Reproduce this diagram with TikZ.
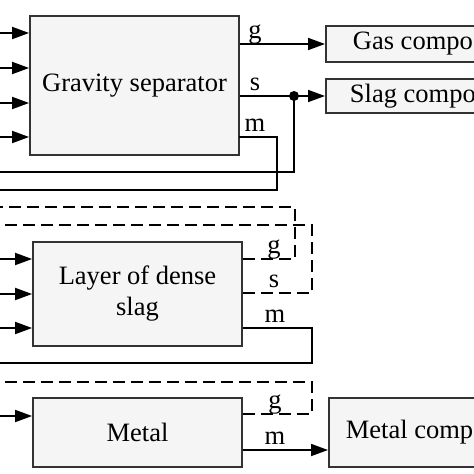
\documentclass[tikz,border=0pt]{standalone}
\usepackage{fontspec}
\setmainfont{Liberation Serif}
\usetikzlibrary{arrows.meta}
\begin{document}
\begin{tikzpicture}[x=1pt, y=-1pt, line width=1.8pt, font=\fontsize{26.5}{31}\selectfont,
  block/.style={draw=black!80, fill=black!4, inner sep=0pt},
  lbl/.style={anchor=base, yshift=6pt, inner sep=0pt},
  flow/.style={-{Triangle[length=17pt, width=12pt]}},
  back/.style={dash pattern=on 12pt off 6pt}]
  \useasboundingbox (0,0) rectangle (474,474);
  \clip (0,0) rectangle (474,474);
  % blocks
  \node[block, minimum width=209pt, minimum height=139pt] (sep) at (134.5,85.5) {Gravity separator};
  \node[block, minimum width=209pt, minimum height=104pt, align=center] (layer) at (137.5,294) {Layer of dense\\slag};
  \node[block, minimum width=209pt, minimum height=69pt] (metal) at (137.5,432.5) {Metal};
  \node[block, anchor=west, minimum height=36pt, inner xsep=27pt] (gas) at (325,44) {Gas compo};
  \node[block, anchor=west, minimum height=34pt, inner xsep=24pt] (slag) at (325,96) {Slag compo};
  \node[block, anchor=west, minimum height=69pt, inner xsep=17pt] (mcomp) at (328,432.5) {Metal comp};
  % inputs
  \foreach \y [count=\i] in {33,68,103,137} {
    \coordinate (sepin\i) at (0,\y);
    \draw[flow] (sepin\i) -- (sepin\i -| sep.west);
  }
  \foreach \y [count=\i] in {259,294,328} {
    \coordinate (layin\i) at (0,\y);
    \draw[flow] (layin\i) -- (layin\i -| layer.west);
  }
  \coordinate (metin) at (0,416);
  \draw[flow] (metin) -- (metin -| metal.west);
  % gravity separator outputs
  \draw[flow] (sep.east |- gas.west) -- (gas.west);
  \draw[flow] (sep.east |- slag.west) -- (slag.west);
  \coordinate (split) at (294,96);
  \fill (split) circle (5pt);
  \coordinate (sret) at (0,172);
  \draw (split) |- (sret);
  \coordinate (sepm) at (239,137);
  \coordinate (mret) at (0,190);
  \draw (sepm) -- (277,137) -- (277,190) -- (mret);
  \node[lbl] (sepg) at (255,44) {g};
  \node[lbl] (seps) at (255,96) {s};
  \node[lbl] (sepmm) at (255,137) {m};
  % layer of dense slag outputs
  \coordinate (lgret) at (0,207);
  \coordinate (lsret) at (0,225);
  \coordinate (lmret) at (0,363);
  \draw[back] (layer.east |- 0,259) -- (295,259) -- (295,207) -- (lgret);
  \draw[back] (layer.east |- 0,293) -- (312,293) -- (312,225) -- (lsret);
  \draw (layer.east |- 0,328) -- (312,328) -- (312,363) -- (lmret);
  \node[lbl] (layg) at (274,259) {g};
  \node[lbl] (lays) at (274,293) {s};
  \node[lbl] (laym) at (275,328) {m};
  % metal outputs
  \coordinate (mgret) at (0,382);
  \draw[back] (metal.east |- 0,414) -- (312,414) -- (312,382) -- (mgret);
  \draw[flow] (metal.east |- 0,450) -- (mcomp.west |- 0,450);
  \node[lbl] (metg) at (275,414) {g};
  \node[lbl] (metm) at (275,450) {m};
\end{tikzpicture}
\end{document}
